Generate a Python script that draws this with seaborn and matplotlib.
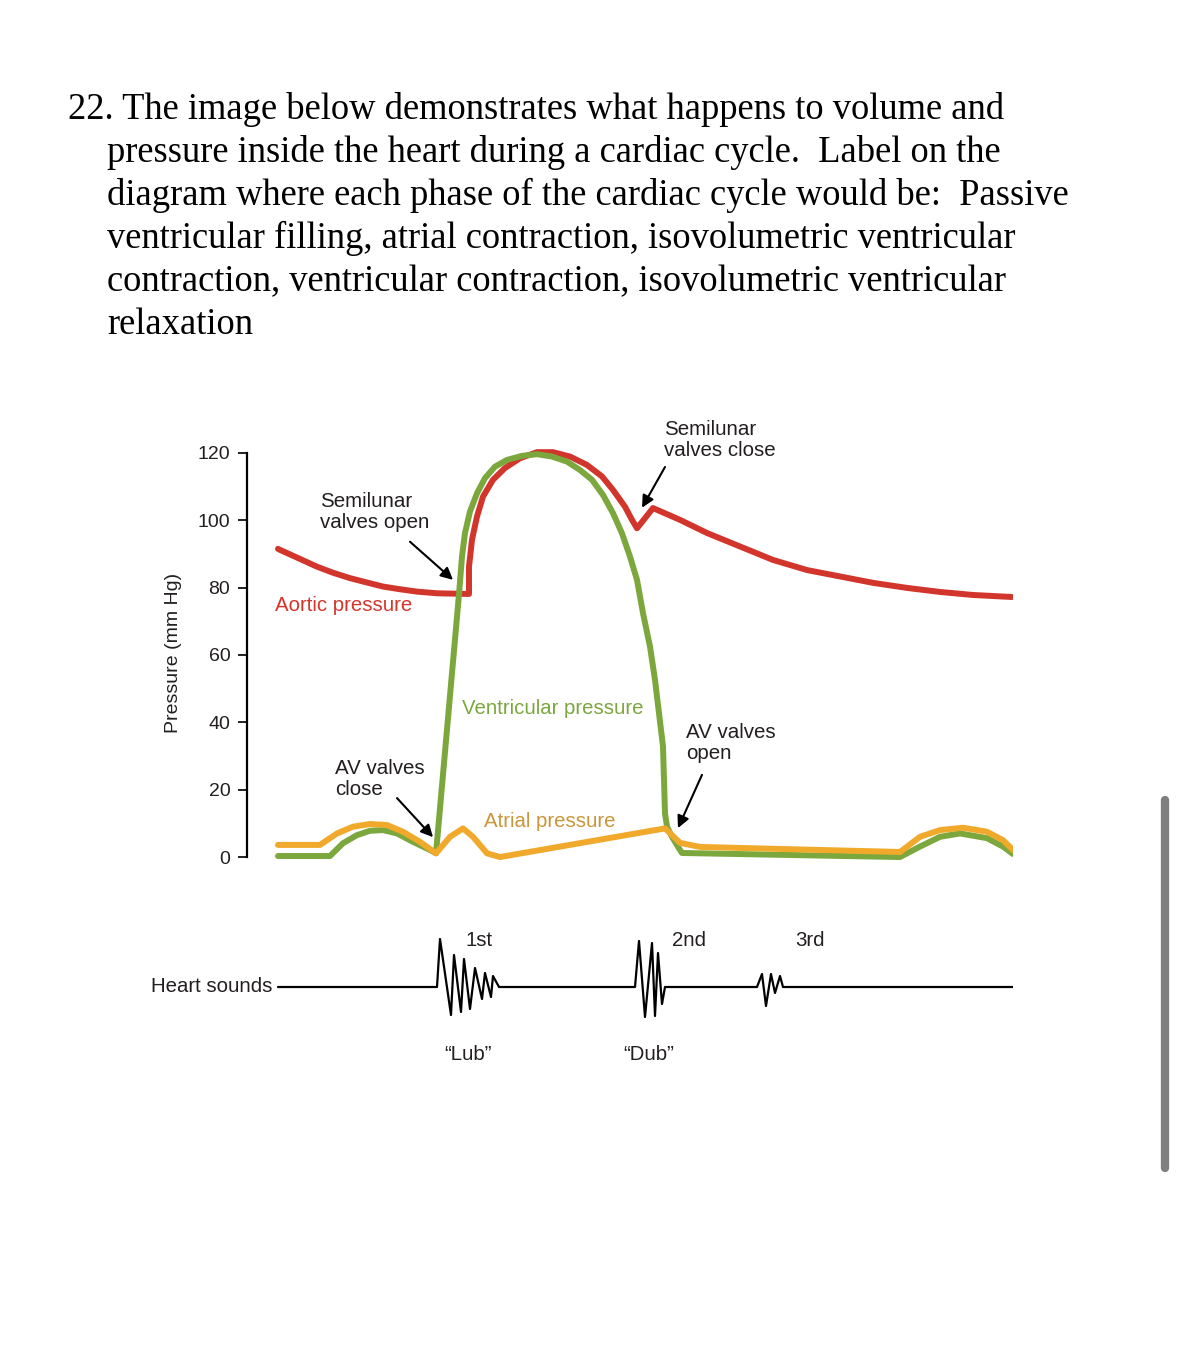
import numpy as np
import pandas as pd
import seaborn as sns
from matplotlib import pyplot as plt
from matplotlib.lines import Line2D

# pressure traces, time in ms from start of trace, pressure in mm Hg
aortic_t = [0, 2, 22, 39, 55, 72, 89, 105, 122, 139, 159, 191, 191, 194, 199, 205,
            215, 227, 242, 259, 275, 292, 309, 324, 335, 347, 354, 359, 375, 402,
            429, 462, 495, 529, 562, 595, 629, 662, 695, 734]
aortic_p = [91.5, 91.2, 88.5, 86.2, 84.4, 82.8, 81.5, 80.3, 79.5, 78.8, 78.3, 78.1,
            86.2, 94.2, 101.1, 107.0, 112.0, 115.5, 118.4, 120.2, 120.2, 118.9,
            116.4, 113.0, 109.0, 104.0, 100.1, 97.6, 103.6, 100.1, 96.2, 92.2, 88.2,
            85.2, 83.3, 81.4, 79.9, 78.7, 77.8, 77.2]

ventricular_t = [0, 52, 65, 79, 92, 105, 119, 135, 152, 158, 181, 184,
                 187, 192, 199, 207, 217, 229, 244, 259, 274, 289, 302, 314, 325, 335,
                 344, 352, 359, 365, 372, 377, 381, 385, 386, 387, 389, 394, 402, 404,
                 622, 642, 662, 682, 709, 725, 735]
ventricular_p = [0.3, 0.3, 4.1, 6.5, 7.8, 8.0, 7.0, 4.5, 2.1, 1.1, 78.0,
                 89.2, 96.2, 102.6, 108.0, 112.5, 115.9, 117.9, 119.1, 119.6,
                 118.9, 117.4, 114.9, 112.0, 107.5, 102.1, 96.1, 89.2, 82.3, 72.4,
                 62.5, 52.6, 42.7, 32.8, 22.9, 13.0, 9.0, 6.0, 2.1, 1.2, 0, 3.1, 6.0,
                 7.0, 5.6, 3.1, 0.9]

atrial_t = [0, 42, 59, 75, 92, 109, 125, 142, 158, 172, 185, 195, 209, 222, 387, 402,
            422, 622, 642, 662, 685, 709, 725, 735]
atrial_p = [3.6, 3.6, 7.0, 9.0, 9.8, 9.5, 7.5, 4.5, 1.1, 6.0, 8.5, 6.0, 1.1, 0, 8.5,
            4.2, 3.0, 1.5, 6.0, 8.0, 8.7, 7.5, 5.0, 2.1]

# heart sound trace (arbitrary amplitude)
sound_t = [0, 159, 162, 173, 176, 183, 186, 192, 197, 204, 207, 213, 215, 221,
           357, 361, 367, 374, 377, 380, 384, 387,
           479, 484, 488, 493, 497, 502, 505, 735]
sound_a = [0, 0, 48, -28, 32, -25, 28, -22, 19, -12, 14, -10, 11, 0,
           0, 46, -30, 44, -29, 34, -17, 0,
           0, 13, -19, 13, -6, 11, 0, 0]

y_ticks = [0, 20, 40, 60, 80, 100, 120]

question_lines = [
    "22. The image below demonstrates what happens to volume and",
    "pressure inside the heart during a cardiac cycle.  Label on the",
    "diagram where each phase of the cardiac cycle would be:  Passive",
    "ventricular filling, atrial contraction, isovolumetric ventricular",
    "contraction, ventricular contraction, isovolumetric ventricular",
    "relaxation",
]

RED = "#d2352b"
GREEN = "#7ba73d"
ORANGE = "#f1a92b"
ORANGE_TXT = "#c9963a"
INK = "#231f20"

sns.set_style("ticks")
plt.rcParams["font.family"] = ["Liberation Sans", "DejaVu Sans"]

W, H = 1179, 1366
fig = plt.figure(figsize=(W / 100, H / 100), dpi=100)
fig.patch.set_facecolor("white")

# question text
for i, line in enumerate(question_lines):
    x0 = 68 if i == 0 else 107
    fig.text(x0 / W, 1 - (119 + 43 * i) / H, line, ha="left", va="baseline",
             fontsize=26.3, family=["Liberation Serif"], color="black")

# pressure panel
ax = fig.add_axes([247 / W, 1 - 870.5 / H, 766 / W, 434.5 / H])
ax.set_facecolor("none")

traces = [
    (aortic_t, aortic_p, RED, 2),
    (ventricular_t, ventricular_p, GREEN, 3),
    (atrial_t, atrial_p, ORANGE, 4),
]
for t, p, col, z in traces:
    df = pd.DataFrame({"t": t, "p": p})
    sns.lineplot(data=df, x="t", y="p", ax=ax, color=col, lw=4.3, sort=False,
                 estimator=None, zorder=z, solid_capstyle="round",
                 solid_joinstyle="round")

ax.set_xlim(-31, 735)
ax.set_ylim(-4, 125)
ax.set_xticks([])
ax.set_yticks(y_ticks)
ax.set_xlabel("")
ax.set_ylabel("")
for s in ["top", "right", "bottom"]:
    ax.spines[s].set_visible(False)
ax.spines["left"].set_bounds(0, 120)
ax.spines["left"].set_linewidth(1.6)
ax.spines["left"].set_color("black")
ax.tick_params(axis="y", direction="out", length=6.5, width=1.4, pad=5.5,
               labelsize=14, colors=INK)
ax.text(-0.0966, 0.5, "Pressure (mm Hg)", transform=ax.transAxes, rotation=90,
        ha="center", va="center", fontsize=14, color=INK)

# curve labels
ax.text(-3, 74.8, "Aortic pressure", color=RED, fontsize=14.7, ha="left", va="center")
ax.text(184, 44.0, "Ventricular pressure", color=GREEN, fontsize=14.7, ha="left",
        va="center")
ax.text(206, 10.4, "Atrial pressure", color=ORANGE_TXT, fontsize=14.7, ha="left",
        va="center")

# valve events
arrow = dict(arrowstyle="-|>", color="black", lw=1.5, mutation_scale=18,
             shrinkA=0, shrinkB=0)
events = [
    ("Semilunar\nvalves open", (42, 102.5), (132, 93.6), (175, 82.3)),
    ("AV valves\nclose", (57, 23.2), (119, 17.5), (155, 5.9)),
    ("Semilunar\nvalves close", (386, 123.8), (387, 115.8), (364, 103.7)),
    ("AV valves\nopen", (408, 33.9), (424, 24.4), (400, 8.6)),
]
for label, pos, start, end in events:
    ax.text(pos[0], pos[1], label, ha="left", va="center", fontsize=14.8,
            color=INK, linespacing=1.1, clip_on=False)
    ax.annotate("", xy=end, xytext=start, arrowprops=arrow, annotation_clip=False)

# heart sounds panel
ax2 = fig.add_axes([247 / W, 1 - 1045 / H, 766 / W, 115 / H])
ax2.set_facecolor("none")
sns.lineplot(x=sound_t, y=sound_a, ax=ax2, color="black", lw=1.6, sort=False,
             estimator=None)
ax2.set_xlim(-31, 735)
ax2.set_ylim(-58, 57)
ax2.axis("off")
ax2.text(-6, 0, "Heart sounds", ha="right", va="center", fontsize=14.7, color=INK)
for lbl, x in [("1st", 201), ("2nd", 411), ("3rd", 532)]:
    ax2.text(x, 46, lbl, ha="center", va="center", fontsize=14.7, color=INK)
for lbl, x in [("\u201cLub\u201d", 190), ("\u201cDub\u201d", 371)]:
    ax2.text(x, -68, lbl, ha="center", va="center", fontsize=14.7, color=INK,
             clip_on=False)

# scrollbar of the page
fig.add_artist(Line2D([1165 / W, 1165 / W], [1 - 800 / H, 1 - 1168 / H],
                      transform=fig.transFigure, color="#7f7f7f", lw=6,
                      solid_capstyle="round"))

fig.savefig("out.png", dpi=100)
